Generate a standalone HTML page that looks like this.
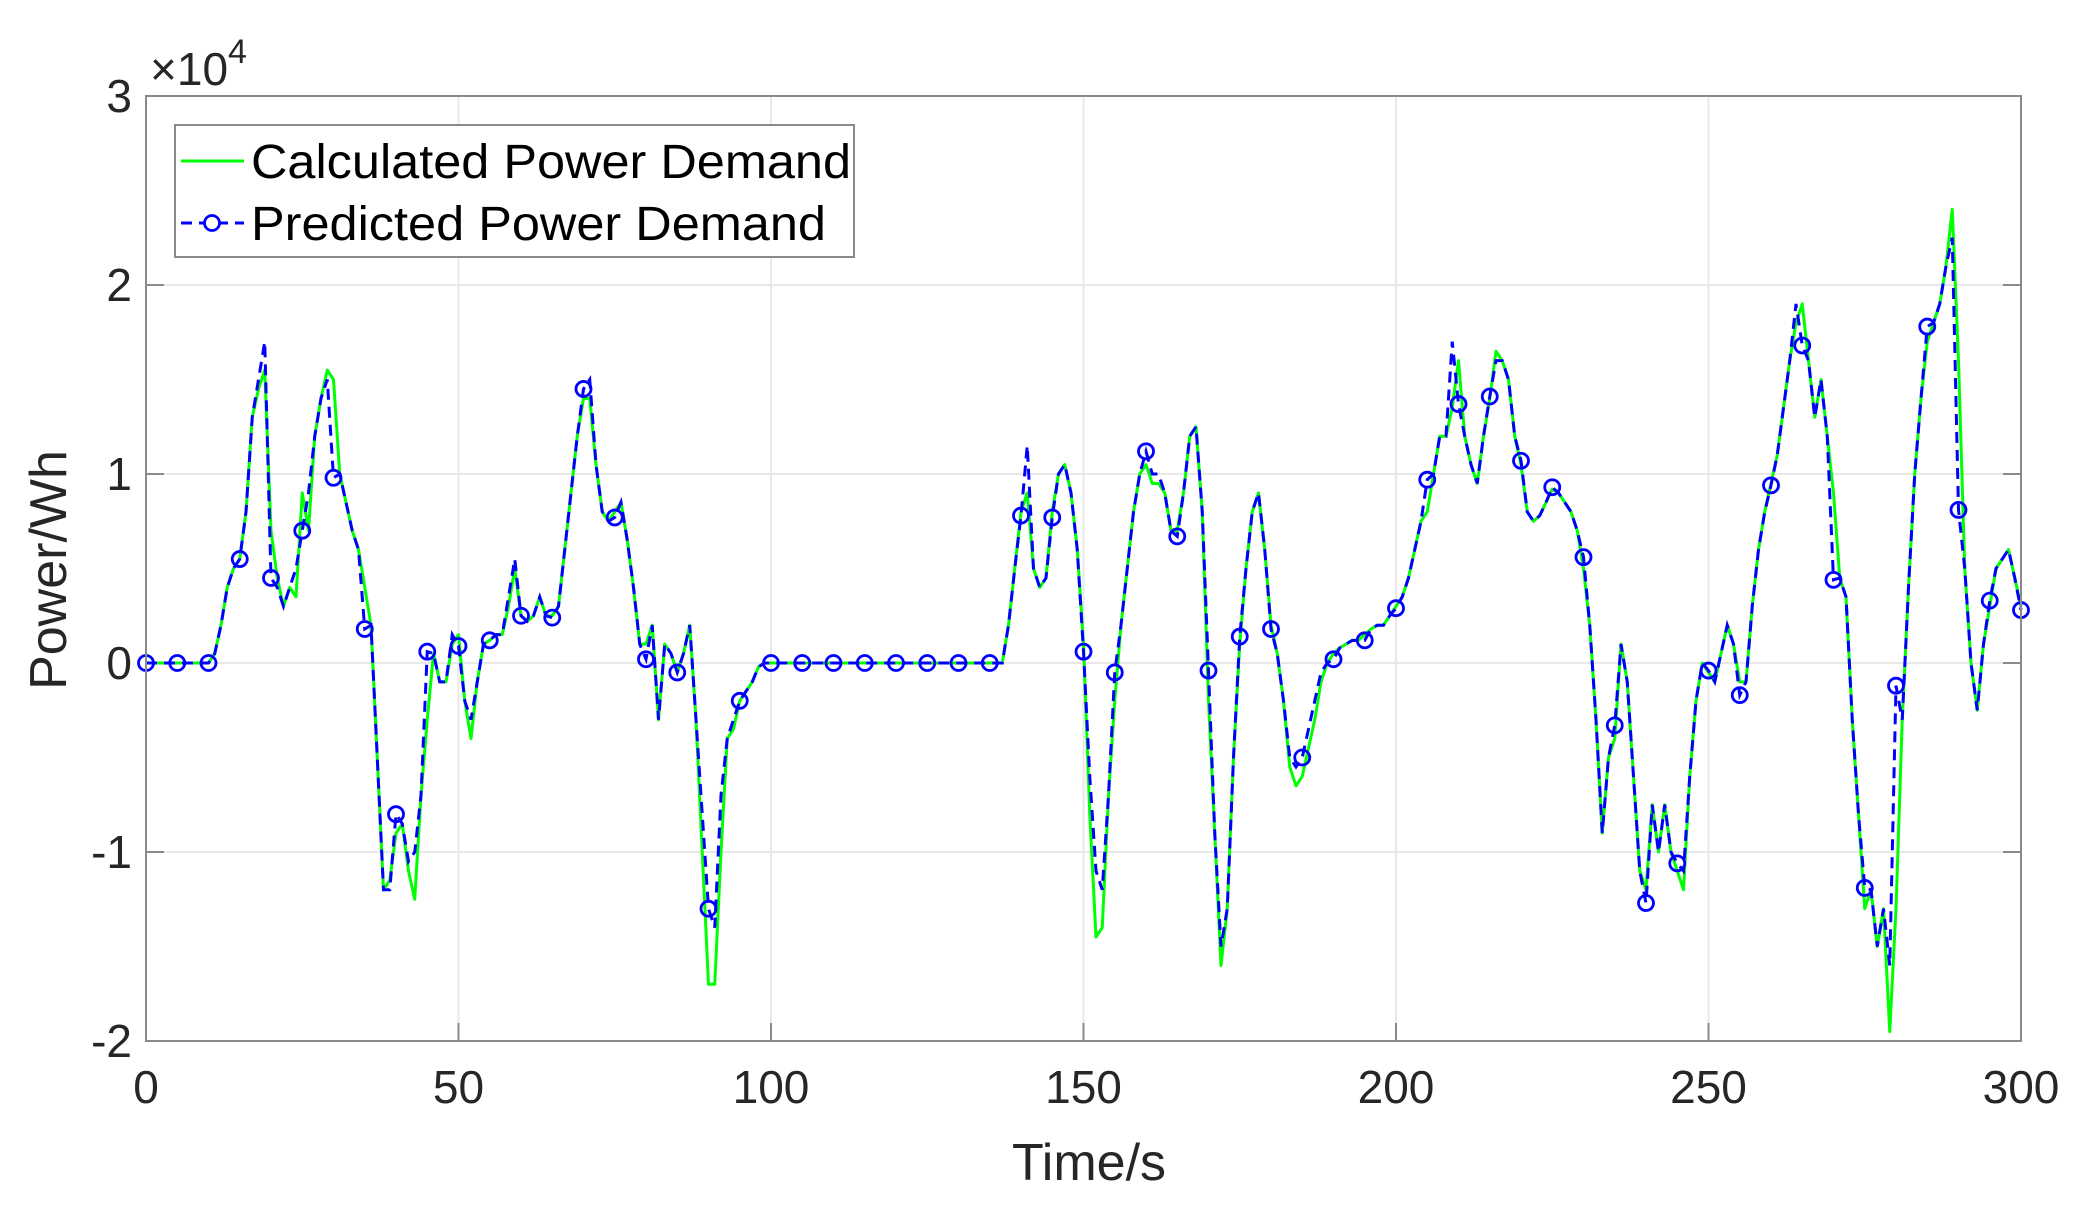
<!DOCTYPE html>
<html><head><meta charset="utf-8"><style>
body{margin:0;background:#fff;}
svg{display:block;font-family:"Liberation Sans",sans-serif;}
</style></head><body>
<svg id="chart" width="2090" height="1211"></svg>
<script>
const xTicks=[0,50,100,150,200,250,300];
const yTicks=[-2,-1,0,1,2,3];
const xTickLabels=["0","50","100","150","200","250","300"];
const yTickLabels=["-2","-1","0","1","2","3"];
const calculated=[0,0,0,0,0,0,0,0,0,0,0,
0.05,0.2,0.4,0.5,0.55,0.8,1.3,1.45,1.55,
0.7,0.45,0.3,0.4,0.35,0.9,0.7,1.2,1.4,1.55,
1.5,1.0,0.85,0.7,0.6,0.4,0.2,-0.5,-1.2,-1.15,
-0.9,-0.85,-1.1,-1.25,-0.7,-0.3,0.05,-0.1,-0.1,0.1,
0.15,-0.2,-0.4,-0.1,0.1,0.12,0.15,0.15,0.3,0.5,
0.25,0.22,0.25,0.35,0.25,0.25,0.3,0.6,0.9,1.2,
1.4,1.4,1.05,0.8,0.75,0.8,0.85,0.65,0.4,0.1,
0.1,0.2,-0.3,0.1,0.05,-0.05,0.05,0.2,-0.3,-1.0,
-1.7,-1.7,-1.0,-0.4,-0.35,-0.2,-0.15,-0.1,-0.02,0,
0,0,0,0,0,0,0,0,0,0,0,0,0,0,0,0,0,0,0,0,0,0,0,0,0,0,0,0,0,0,0,0,0,0,0,0,0,0,
0.2,0.5,
0.8,0.9,0.5,0.4,0.45,0.8,1.0,1.05,0.9,0.6,
0.1,-0.8,-1.45,-1.4,-0.7,-0.2,0.2,0.5,0.8,1.0,
1.05,0.95,0.95,0.9,0.7,0.7,0.9,1.2,1.25,0.8,
-0.2,-0.9,-1.6,-1.3,-0.5,0.1,0.5,0.8,0.9,0.6,
0.2,0.05,-0.2,-0.55,-0.65,-0.6,-0.45,-0.3,-0.1,0,
0.05,0.08,0.1,0.12,0.12,0.15,0.18,0.2,0.2,0.25,
0.3,0.35,0.45,0.6,0.75,0.8,1.0,1.2,1.2,1.35,
1.6,1.2,1.05,0.95,1.2,1.4,1.65,1.6,1.5,1.2,
1.05,0.8,0.75,0.78,0.85,0.92,0.9,0.85,0.8,0.7,
0.5,0.2,-0.3,-0.9,-0.5,-0.4,0.1,-0.1,-0.6,-1.1,
-1.2,-0.75,-1.0,-0.75,-1.0,-1.1,-1.2,-0.6,-0.2,0,
-0.05,-0.1,0.05,0.2,0.1,-0.1,-0.1,0.3,0.6,0.8,
0.95,1.1,1.35,1.6,1.8,1.9,1.6,1.3,1.5,1.2,
0.9,0.45,0.35,-0.3,-0.8,-1.3,-1.2,-1.5,-1.3,-1.95,
-1.3,-0.3,0.4,1.0,1.4,1.7,1.8,1.9,2.1,2.4,
1.6,0.5,0.0,-0.25,0.1,0.3,0.5,0.55,0.6,0.45,0.3];
const predicted=[0,0,0,0,0,0,0,0,0,0,0,
0.05,0.2,0.4,0.5,0.55,0.8,1.3,1.5,1.7,
0.45,0.4,0.3,0.4,0.5,0.7,0.9,1.2,1.4,1.5,
0.98,1.0,0.85,0.7,0.6,0.18,0.2,-0.5,-1.2,-1.2,
-0.8,-0.85,-1.05,-1.0,-0.7,0.06,0.05,-0.1,-0.1,0.15,
0.09,-0.2,-0.3,-0.1,0.1,0.12,0.15,0.15,0.35,0.55,
0.25,0.22,0.25,0.35,0.25,0.24,0.3,0.6,0.9,1.2,
1.45,1.5,1.05,0.8,0.75,0.77,0.85,0.65,0.4,0.1,
0.02,0.2,-0.3,0.1,0.05,-0.05,0.05,0.2,-0.3,-0.8,
-1.3,-1.4,-0.7,-0.4,-0.3,-0.2,-0.15,-0.1,-0.02,0,
0,0,0,0,0,0,0,0,0,0,0,0,0,0,0,0,0,0,0,0,0,0,0,0,0,0,0,0,0,0,0,0,0,0,0,0,0,0,
0.2,0.5,
0.78,1.15,0.5,0.4,0.45,0.77,1.0,1.05,0.9,0.6,
0.06,-0.6,-1.1,-1.2,-0.7,-0.05,0.2,0.5,0.8,1.0,
1.12,1.0,1.0,0.9,0.7,0.67,0.9,1.2,1.25,0.8,
-0.04,-0.9,-1.5,-1.3,-0.5,0.14,0.5,0.8,0.9,0.6,
0.18,0.05,-0.2,-0.5,-0.55,-0.5,-0.35,-0.2,-0.05,0,
0.02,0.08,0.1,0.12,0.12,0.12,0.18,0.2,0.2,0.25,
0.29,0.35,0.45,0.6,0.75,0.97,1.0,1.2,1.2,1.7,
1.37,1.2,1.05,0.95,1.2,1.41,1.6,1.6,1.5,1.2,
1.07,0.8,0.75,0.78,0.85,0.93,0.9,0.85,0.8,0.7,
0.56,0.2,-0.3,-0.9,-0.5,-0.33,0.1,-0.1,-0.6,-1.1,
-1.27,-0.75,-1.0,-0.75,-1.0,-1.06,-1.1,-0.6,-0.2,0,
-0.04,-0.1,0.05,0.2,0.1,-0.17,-0.1,0.3,0.6,0.8,
0.94,1.1,1.35,1.6,1.9,1.68,1.6,1.3,1.5,1.2,
0.44,0.45,0.35,-0.3,-0.8,-1.19,-1.2,-1.5,-1.3,-1.6,
-0.12,-0.3,0.4,1.0,1.4,1.78,1.8,1.9,2.1,2.25,
0.81,0.5,0.0,-0.25,0.1,0.33,0.5,0.55,0.6,0.45,0.28];

const NS="http://www.w3.org/2000/svg";
const svg=document.getElementById('chart');
const L=146,R=2021,T=96,B=1041;
const xS=v=>L+(v-0)/(300-0)*(R-L);
const yS=v=>B-(v-(-2))/(3-(-2))*(B-T);
function mk(tag,attrs,parent){const e=document.createElementNS(NS,tag);for(const k in attrs)e.setAttribute(k,attrs[k]);(parent||svg).appendChild(e);return e;}

const grid=mk('g',{});


xTicks.forEach((t,i)=>{
  const gl=mk('line',{x1:xS(t),x2:xS(t),y1:T,y2:B,stroke:'#e8e8e8','stroke-width':2},grid);
  
  
  const tk=mk('line',{x1:xS(t),x2:xS(t),y1:B,y2:B-18,stroke:'#8a8a8a','stroke-width':2});
  
  
  const tx=mk('text',{x:xS(t),y:B+62,'text-anchor':'middle','font-size':46,fill:'#262626'});
  tx.textContent=xTickLabels[i];
  
  
});
yTicks.forEach((t,i)=>{
  const gl=mk('line',{x1:L,x2:R,y1:yS(t),y2:yS(t),stroke:'#e8e8e8','stroke-width':2},grid);
  
  
  const tk=mk('line',{x1:L,x2:L+18,y1:yS(t),y2:yS(t),stroke:'#8a8a8a','stroke-width':2});
  
  
  const tk2=mk('line',{x1:R,x2:R-18,y1:yS(t),y2:yS(t),stroke:'#8a8a8a','stroke-width':2});
  
  
  const tx=mk('text',{x:L-14,y:yS(t)+16,'text-anchor':'end','font-size':46,fill:'#262626'});
  tx.textContent=yTickLabels[i];
  
  
});

function pathOf(arr){return arr.map((v,i)=>(i?'L':'M')+xS(i).toFixed(2)+','+yS(v).toFixed(2)).join('');}
const gLine=mk('path',{d:pathOf(calculated),fill:'none',stroke:'#00ff00','stroke-width':3,'stroke-linejoin':'round'});


const bLine=mk('path',{d:pathOf(predicted),fill:'none',stroke:'#0000ff','stroke-width':3,'stroke-dasharray':'11 7'});


predicted.forEach((v,i)=>{
  if(i%5!==0)return;
  const c=mk('circle',{cx:xS(i),cy:yS(v),r:7.5,fill:'none',stroke:'#0000ff','stroke-width':2.8});
  
  
});

const box=mk('rect',{x:L,y:T,width:R-L,height:B-T,fill:'none',stroke:'#8a8a8a','stroke-width':2});



const sc=mk('text',{x:150,y:85,'font-size':46,fill:'#262626'});
sc.innerHTML='×10<tspan dy="-22" font-size="34">4</tspan>';



const yt=mk('text',{x:0,y:0,'font-size':52,fill:'#262626','text-anchor':'middle',transform:'translate(66,570) rotate(-90)'});
yt.textContent='Power/Wh';


const xt=mk('text',{x:1089,y:1180,'font-size':52,fill:'#262626','text-anchor':'middle'});
xt.textContent='Time/s';



const lg=mk('g',{});


mk('rect',{x:175,y:125,width:679,height:132,fill:'#fff',stroke:'#8a8a8a','stroke-width':2},lg);
const l1=mk('line',{x1:181,x2:244,y1:161,y2:161,stroke:'#00ff00','stroke-width':3},lg);


const t1=mk('text',{x:251,y:178,'font-size':48,fill:'#000',textLength:600,lengthAdjust:'spacingAndGlyphs'},lg);
t1.textContent='Calculated Power Demand';


const l2=mk('line',{x1:181,x2:244,y1:223,y2:223,stroke:'#0000ff','stroke-width':3,'stroke-dasharray':'11 7'},lg);


const c2=mk('circle',{cx:212,cy:223,r:7.5,fill:'#fff',stroke:'#0000ff','stroke-width':2.8},lg);


const t2=mk('text',{x:251,y:240,'font-size':48,fill:'#000',textLength:575,lengthAdjust:'spacingAndGlyphs'},lg);
t2.textContent='Predicted Power Demand';


</script>
</body></html>
